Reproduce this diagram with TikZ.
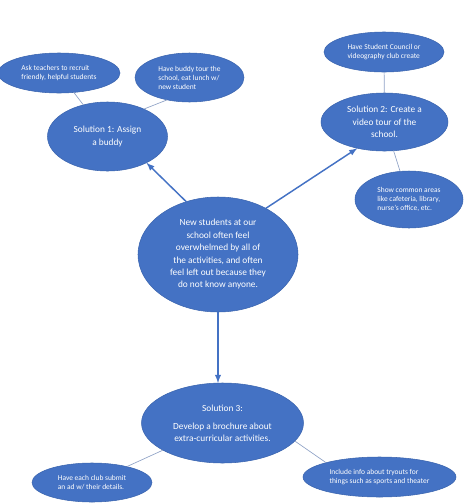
\documentclass[tikz,border=0pt]{standalone}
\usepackage{fontspec}
\setmainfont{Carlito}
\usetikzlibrary{shapes.geometric}
\definecolor{ovalblue}{HTML}{4472C4}
\definecolor{ovalrim}{HTML}{3A64AE}
\definecolor{twiggray}{HTML}{8FA2C6}
\newcommand{\bigtxt}  {\fontsize{7}{9.3}\selectfont}
\newcommand{\smalltxt}{\fontsize{5.6}{6.8}\selectfont}

\begin{document}
\begin{tikzpicture}[x=0.75pt,y=-0.75pt,>=latex,
      oval/.style={ellipse,fill=ovalblue,draw=ovalrim,line width=0.4pt,text=white,inner sep=0pt,outer sep=0pt},
      idea/.style={oval,font=\bigtxt,align=center},
      detail/.style={oval,font=\smalltxt,align=left},
      twig/.style={draw=twiggray,line width=0.5pt},
      branch/.style={->,draw=ovalblue,line width=1.1pt}]
      \useasboundingbox (0,0) rectangle (474,504);
      \node[idea,minimum width=120pt,minimum height=86.25pt] (problem) at (218,254.5)
           {New students at our\\school often feel\\overwhelmed by all of\\the activities, and often\\feel left out because they\\do not know anyone.};
      \node[idea,minimum width=90pt,minimum height=51.75pt] (sol1) at (107.5,136.5) {Solution 1: Assign\\a buddy};
      \node[idea,minimum width=95.25pt,minimum height=43.5pt] (sol2) at (384.5,122) {Solution 2: Create a\\video tour of the\\school.};
      \node[idea,minimum width=121.5pt,minimum height=60pt] (sol3) at (222.5,423)
           {Solution 3:\\[4.2pt]Develop a brochure about\\extra-curricular activities.};
      \node[detail,minimum width=91.5pt,minimum height=30pt] (recruit) at (59,73) {Ask teachers to recruit\\friendly, helpful students};
      \node[detail,minimum width=81.75pt,minimum height=36.75pt] (tour) at (189.5,77.5) {Have buddy tour the\\school, eat lunch w/\\new student};
      \node[detail,minimum width=90pt,minimum height=30pt] (council) at (384,52) {Have Student Council or\\videography club create};
      \node[detail,minimum width=81pt,minimum height=42.75pt] (areas) at (409,199.5) {Show common areas\\like cafeteria, library,\\nurse's office, etc.};
      \node[detail,minimum width=90pt,minimum height=29.25pt] (clubad) at (92,482.5) {Have each club submit\\an ad w/ their details.};
      \node[detail,minimum width=114.75pt,minimum height=30pt] (tryouts) at (379.5,477) {Include info about tryouts for\\things such as sports and theater};
      \draw[twig] (recruit) -- (sol1);
      \draw[twig] (tour.225) -- (sol1.37);
      \draw[twig] (council) -- (sol2);
      \draw[twig] (sol2) -- (areas);
      \draw[twig] (sol3) -- (clubad);
      \draw[twig] (sol3.-14) -- (tryouts.165);
      \draw[branch] (problem.121) -- (sol1.-34);
      \draw[branch] (problem.44) -- (sol2.224);
      \draw[branch] (problem.south) -- (problem.south |- sol3.north);
     \end{tikzpicture}
\end{document}
